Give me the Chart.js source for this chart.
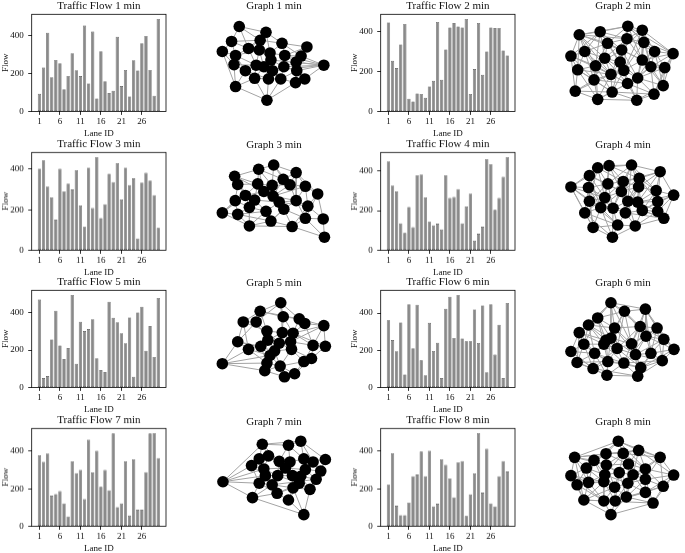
<!DOCTYPE html>
<html><head><meta charset="utf-8">
<script src="https://cdn.jsdelivr.net/npm/chart.js@4.4.1/dist/chart.umd.min.js"></script>
<style>
html,body{margin:0;padding:0;background:#fff;overflow:hidden;width:685px;height:553px;}
.p{position:absolute;}
.t{position:absolute;font-family:"Liberation Serif","Times New Roman",serif;font-size:11px;color:#111;white-space:nowrap;transform:translate(-50%,-50%);line-height:1;}
</style></head><body>
<script>
// ---------- data ----------
const lanes = [1,2,3,4,5,6,7,8,9,10,11,12,13,14,15,16,17,18,19,20,21,22,23,24,25,26,27,28,29,30];
const xTickLabels = [1,6,11,16,21,26];
const yTickLabels = [0,200,400];

const flow1 = [93,232,417,181,273,255,118,188,308,218,187,455,148,423,69,319,160,97,109,395,134,220,79,271,217,361,400,220,83,490];
const flow2 = [445,253,217,335,438,63,50,90,87,68,125,153,448,158,310,420,442,425,420,463,87,212,443,183,300,420,417,418,305,280];
const flow3 = [403,443,314,261,151,402,291,329,300,395,221,115,408,208,460,159,227,378,337,430,251,408,322,355,58,334,382,344,272,110];
const flow4 = [449,327,298,136,87,219,116,379,383,267,143,126,134,105,379,264,269,309,136,221,286,48,83,119,461,435,204,264,371,471];
const flow5 = [471,50,61,257,411,225,152,211,496,127,352,302,313,366,157,93,82,459,373,350,291,237,375,57,402,432,196,329,163,480];
const flow6 = [361,255,195,350,70,448,211,445,146,66,348,196,241,50,423,488,266,498,264,248,248,420,239,441,82,448,177,337,50,455];
const flow7 = [379,343,388,163,172,187,122,52,346,283,300,144,461,287,402,210,300,192,495,102,122,346,57,357,88,88,289,495,497,364];
const flow8 = [221,389,109,59,59,126,267,276,398,267,402,106,120,357,327,255,154,341,348,54,170,282,497,179,413,122,106,267,348,292];

// graph layouts (node x,y in layout units) and edge lists (1-based node ids)
const g1Nodes = [[125,68],[212,87],[100,117],[193,113],[264,123],[70,150],[155,140],[190,145],[345,135],[113,163],[225,155],[273,163],[326,165],[108,193],[180,195],[228,178],[310,185],[400,195],[145,213],[205,200],[270,200],[233,213],[312,213],[175,238],[220,240],[260,240],[308,252],[338,240],[113,265],[215,310]];
const g1Edges = "1-2 1-3 1-4 1-7 2-4 2-5 2-11 2-8 3-6 3-7 3-10 4-8 4-5 4-16 5-12 5-9 5-11 6-10 6-14 6-29 7-8 7-10 7-15 8-11 8-20 9-13 9-17 9-12 10-14 10-15 11-16 11-12 12-17 12-21 13-17 13-18 14-19 14-29 15-20 15-19 15-24 16-22 16-20 16-21 17-18 17-23 18-23 18-21 18-16 18-28 19-24 19-29 20-22 20-25 21-26 21-22 22-25 23-27 23-28 24-25 24-30 25-26 25-30 26-27 26-30 27-28 27-30 29-30 10-19 12-13 3-4 7-4 8-15 8-16 11-20 13-23 17-21 22-26 21-23 19-25 24-29 14-15 2-7 5-13 17-27 23-26 20-24 10-8 18-12 18-22";

const g2Nodes = [[125,95],[193,85],[283,67],[330,80],[217,123],[280,108],[335,120],[143,150],[263,145],[370,150],[430,157],[98,165],[208,172],[330,178],[258,185],[178,197],[358,200],[403,203],[120,210],[270,212],[228,225],[315,237],[173,243],[282,255],[398,262],[112,280],[232,283],[368,290],[185,307],[312,310]];
const g2Edges = "1-2 1-3 1-5 1-8 1-12 1-13 1-19 1-9 2-3 2-5 2-6 2-8 2-13 2-9 3-4 3-6 3-7 3-9 3-11 4-7 4-10 4-11 4-6 4-14 5-6 5-9 5-13 5-15 5-16 6-7 6-9 6-14 6-20 7-10 7-14 7-17 8-12 8-16 8-13 8-19 8-21 9-15 9-14 9-20 9-21 10-11 10-17 10-18 10-14 11-18 11-25 11-17 12-19 12-26 12-16 13-16 13-21 13-15 13-23 14-17 14-22 14-20 15-20 15-21 15-24 16-19 16-23 16-21 17-18 17-22 17-25 18-25 18-28 19-23 19-26 20-24 20-22 20-27 21-27 21-23 21-24 22-24 22-28 22-30 23-26 23-29 23-27 24-27 24-30 25-28 25-30 26-29 27-29 27-30 28-30 29-30 19-29 11-28 3-15 26-27 2-16 4-20 13-20 24-28 12-23 6-15 1-16 1-21 2-12 2-15 3-5 3-10 3-14 4-9 4-17 5-8 5-20 5-14 6-10 6-13 7-11 7-20 7-22 8-23 9-16 9-22 10-22 10-25 11-14 12-21 13-24 14-25 15-22 15-27 16-27 16-29 17-24 17-28 18-22 19-21 20-30 21-29 22-25 23-24 24-29 26-21 27-28 19-27 1-6 18-14";

const g3Nodes = [[188,497],[237,483],[310,508],[110,520],[268,530],[120,547],[185,545],[232,550],[290,548],[340,553],[205,570],[145,583],[175,598],[235,585],[380,578],[112,600],[255,605],[310,600],[158,622],[270,628],[348,618],[212,635],[70,640],[120,645],[228,667],[340,658],[398,660],[158,683],[297,685],[402,720]];
const g3Edges = "1-2 1-4 1-7 1-5 2-3 2-5 2-8 3-5 3-9 3-10 4-6 4-7 4-12 5-9 5-8 5-14 6-12 6-16 6-7 7-11 7-8 7-13 8-11 8-14 9-10 9-18 9-14 10-15 10-21 10-18 11-13 11-14 11-17 12-13 12-16 12-19 13-19 13-22 14-17 14-20 15-21 15-27 15-26 16-23 16-24 16-19 17-20 17-18 17-22 18-21 18-26 19-24 19-28 20-25 20-29 21-26 21-27 22-25 22-28 23-24 23-28 24-28 25-28 25-29 26-29 26-27 26-30 27-30 29-30 1-11 3-18 13-17 8-17 20-26 2-9 1-8 4-11 6-13 7-12 8-9 11-12 14-18 17-21 19-22 20-18 22-24 23-16 24-25 25-20 29-21 28-29 12-23 10-14 3-15";

const g4Nodes = [[185,492],[222,485],[295,483],[388,505],[158,518],[320,527],[218,545],[268,537],[318,555],[98,555],[155,557],[262,570],[375,567],[432,582],[208,590],[158,602],[283,602],[315,605],[380,603],[195,623],[235,625],[275,640],[330,632],[380,635],[143,640],[400,658],[233,720],[250,680],[307,683],[170,688]];
const g4Edges = "1-2 1-5 1-7 1-3 1-10 2-3 2-7 2-8 2-5 3-6 3-4 3-8 3-9 4-6 4-13 4-14 4-9 5-10 5-11 5-7 5-15 6-9 6-8 6-13 6-12 7-8 7-11 7-12 7-15 8-12 8-9 8-17 9-13 9-18 9-17 10-11 10-16 10-25 10-15 11-16 11-15 11-20 12-17 12-15 12-21 13-14 13-19 13-18 14-19 14-26 14-24 15-20 15-21 15-16 16-25 16-20 16-30 17-18 17-22 17-21 18-23 18-19 19-24 19-23 20-25 20-21 20-30 21-22 21-28 22-23 22-29 22-28 23-24 23-29 24-26 24-29 25-30 26-29 27-28 27-30 28-29 28-30 27-29 3-12 2-15 1-11 4-19 6-18 10-20 11-25 14-23 8-21 26-23 9-22 5-16 12-22 13-24 17-23 20-27 1-8 1-15 2-6 2-12 3-7 3-13 4-8 4-18 5-12 5-20 6-17 6-19 7-16 7-21 8-18 9-12 9-23 10-30 11-21 12-23 13-23 14-18 15-22 15-25 16-21 16-28 17-29 18-24 19-26 20-28 21-27 22-26 23-26 25-28 25-27 11-30 1-16 3-17 8-15 12-20";

const g5Nodes = [[260,72],[193,100],[268,118],[320,125],[138,135],[180,135],[338,140],[400,147],[215,165],[265,170],[300,172],[120,200],[218,195],[292,200],[255,205],[195,215],[155,225],[365,212],[405,215],[240,230],[295,225],[225,245],[360,255],[70,272],[215,270],[335,265],[208,295],[258,280],[305,305],[272,315]];
const g5Edges = "1-2 1-3 1-4 1-10 2-6 2-3 2-9 3-4 3-10 3-11 4-7 4-11 4-8 5-6 5-12 5-9 5-17 6-9 6-13 7-8 7-11 7-18 8-19 8-18 8-14 9-13 9-10 10-11 10-15 10-14 11-14 11-18 12-17 12-24 12-16 13-15 13-16 13-20 14-21 14-15 15-20 15-21 16-17 16-22 17-24 17-25 18-19 18-23 18-26 19-23 20-22 20-28 21-26 21-28 22-25 23-26 24-25 24-27 25-27 26-29 27-30 28-30 28-29 29-30 19-11 22-28 20-21 9-16 2-5 1-6 2-4 6-12 9-15 10-13 11-8 12-20 14-18 15-22 16-25 17-22 20-25 21-23 23-29 24-22 25-28 26-28 27-28 13-14";

const g6Nodes = [[228,72],[340,93],[272,100],[185,122],[155,145],[240,155],[323,150],[378,155],[125,170],[342,182],[400,192],[228,188],[140,208],[205,208],[295,207],[248,222],[433,225],[98,232],[175,238],[308,242],[358,238],[118,268],[218,265],[270,270],[395,262],[170,288],[325,285],[215,310],[315,313],[212,195]];
const g6Edges = "1-3 1-4 1-6 1-2 1-12 2-3 2-7 2-8 2-10 3-6 3-7 3-15 4-5 4-6 4-9 4-12 4-30 5-9 5-13 5-6 5-30 6-7 6-12 6-15 6-16 7-8 7-10 7-15 8-11 8-10 8-17 9-13 9-18 9-14 10-11 10-15 10-21 10-20 11-17 11-21 11-25 12-14 12-16 12-15 12-30 13-18 13-19 13-14 13-22 14-19 14-16 14-23 15-16 15-20 15-24 16-23 16-24 16-20 17-25 17-21 18-22 18-19 19-22 19-26 19-23 20-21 20-24 20-27 21-25 21-27 22-26 23-26 23-28 23-24 24-27 24-29 24-28 25-27 25-29 26-28 27-29 28-29 30-14 30-19 5-12 9-30 3-10 1-5 2-11 18-26 22-28 13-26 11-20 7-16 8-21 17-27 19-28 6-30 4-13 12-20 1-7 1-9 1-15 2-15 2-21 3-4 3-12 3-16 4-14 5-14 5-19 6-14 6-20 7-20 7-11 8-25 8-15 9-19 9-22 10-17 10-24 12-19 12-23 13-23 14-24 15-27 16-27 16-26 18-26 19-24 20-25 20-29 21-29 22-23 23-27 24-25 26-29 30-16 30-23 2-17";

const g7Nodes = [[200,497],[285,500],[325,487],[220,535],[190,545],[255,553],[290,555],[335,545],[365,555],[405,547],[165,567],[205,578],[275,575],[340,580],[390,585],[210,600],[250,600],[298,600],[325,602],[72,620],[190,625],[375,612],[232,630],[320,625],[248,658],[300,640],[355,645],[168,672],[285,680],[335,728]];
const g7Edges = "1-2 1-4 1-5 1-3 2-3 2-6 2-7 3-8 3-9 4-6 4-5 4-12 5-11 5-12 6-7 6-13 7-8 7-13 8-9 8-14 9-10 9-15 10-15 10-22 11-12 11-20 11-21 12-16 12-17 13-17 13-18 14-19 14-15 14-22 15-22 16-21 16-23 17-23 17-18 18-19 18-26 19-24 19-22 20-21 20-28 20-16 20-1 21-28 21-23 22-27 23-25 24-26 24-27 25-29 25-28 26-29 26-27 27-30 29-30 28-30 6-17 13-24 3-10 1-6 2-8 4-13 5-4 11-16 12-13 13-14 14-24 15-9 16-17 17-24 18-14 19-27 21-25 23-26 24-25 25-26 28-23 29-24 20-12 22-23 30-26";

const g8Nodes = [[252,487],[318,517],[212,528],[268,527],[110,540],[173,550],[388,540],[213,565],[285,562],[148,575],[340,578],[98,600],[208,597],[255,590],[300,597],[432,598],[155,622],[118,630],[205,620],[340,612],[283,625],[240,638],[398,635],[340,655],[140,680],[205,683],[242,683],[278,670],[365,690],[228,728]];
const g8Edges = "1-2 1-3 1-4 1-5 1-7 2-4 2-7 2-11 2-9 3-4 3-6 3-8 3-5 4-9 4-8 4-14 5-6 5-10 5-12 5-2 6-10 6-8 6-13 7-11 7-16 7-23 8-13 8-14 8-9 9-15 9-11 9-14 10-12 10-17 10-13 11-15 11-20 11-16 12-18 12-17 12-25 13-19 13-14 13-17 14-15 14-21 14-22 15-20 15-21 16-23 16-20 16-29 17-18 17-19 17-25 18-25 19-22 19-26 20-23 20-24 20-21 21-22 21-28 21-24 22-27 22-26 23-24 23-29 24-29 24-28 25-26 25-30 26-27 26-30 27-28 27-30 28-29 28-30 29-30 25-29 7-4 3-10 6-19 9-20 18-26 13-22 11-23 15-24 19-27 14-28 8-19 12-19 1-6 1-9 1-11 2-16 2-15 3-13 3-9 4-11 4-13 5-8 5-17 6-14 6-17 7-20 7-15 8-22 9-21 10-19 10-18 11-21 11-24 12-26 13-21 14-27 15-28 16-24 17-26 18-19 19-25 20-28 20-29 21-27 22-25 22-28 23-28 24-27 26-28 3-2 5-25";

// ---------- drawing ----------
const FONT = '"Liberation Serif","Times New Roman",serif';
const TXT = '#111';

const boxPlugin = {id:'box', afterDraw(c){
  const a=c.chartArea, x=c.ctx; x.save(); x.strokeStyle='#000'; x.lineWidth=0.8;
  x.strokeRect(a.left,a.top,a.right-a.left,a.bottom-a.top); x.restore();
}};

function makeCanvas(left, top, w, h){
  const d=document.createElement('div'); d.className='p';
  d.style.cssText='left:'+left+'px;top:'+top+'px;width:'+w+'px;height:'+h+'px';
  const c=document.createElement('canvas'); d.appendChild(c); document.body.appendChild(d); return c;
}
function makeText(txt, cx, cy){
  const d=document.createElement('div'); d.className='t'; d.textContent=txt;
  d.style.left=cx+'px'; d.style.top=cy+'px'; document.body.appendChild(d);
}

function barChart(canvas, title, values){
  const lo = lanes[0]-0.4, hi = lanes[lanes.length-1]+0.4, m=(hi-lo)*0.05;
  const ymax = Math.max(...values)*1.05;
  new Chart(canvas, {
    type:'bar',
    data:{datasets:[{data:lanes.map((l,i)=>({x:l,y:values[i]})),
      backgroundColor:'#8a8a8a', borderColor:'#555555', borderWidth:0.6, borderSkipped:false,
      categoryPercentage:0.8, barPercentage:1}]},
    options:{
      animation:false, responsive:true, maintainAspectRatio:false, events:[],
      layout:{padding:{left:0,right:9,top:0,bottom:0}},
      plugins:{legend:{display:false}, tooltip:{enabled:false},
        title:{display:true,fullSize:false,text:title,color:TXT,font:{family:FONT,size:11,weight:'normal'},padding:{top:0,bottom:1.1}}},
      scales:{
        x:{type:'linear',min:lo-m,max:hi+m,offset:false,
          afterBuildTicks:s=>{s.ticks=xTickLabels.map(v=>({value:v}));},
          afterFit:s=>{s.height=28;},
          ticks:{color:TXT,font:{family:FONT,size:9},padding:1,maxRotation:0,autoSkip:false},
          grid:{display:true,offset:false,drawOnChartArea:false,drawTicks:true,tickLength:3.5,tickColor:'#000',tickWidth:0.8},
          border:{display:false},
          title:{display:true,text:'Lane ID',color:TXT,font:{family:FONT,size:9},padding:{top:0,bottom:0.5}}},
        y:{type:'linear',min:0,max:ymax,
          afterBuildTicks:s=>{s.ticks=yTickLabels.map(v=>({value:v}));},
          afterFit:s=>{s.width=31.7;},
          ticks:{color:TXT,font:{family:FONT,size:9},padding:4.5},
          grid:{display:true,drawOnChartArea:false,drawTicks:true,tickLength:3.5,tickColor:'#000',tickWidth:0.8},
          border:{display:false},
          title:{display:true,text:'Flow',color:TXT,font:{family:FONT,size:9},padding:{top:0,bottom:0}}}
      }
    },
    plugins:[boxPlugin]
  });
}

function graphChart(canvas, nodes, edgeStr, ymin){
  const pairs = edgeStr.trim().split(/\s+/).map(s=>s.split('-').map(n=>+n-1));
  const edgeData=[];
  pairs.forEach(([a,b])=>{
    edgeData.push({x:nodes[a][0],y:nodes[a][1]},{x:nodes[b][0],y:nodes[b][1]},{x:null,y:null});
  });
  new Chart(canvas,{
    type:'scatter',
    data:{datasets:[
      {type:'line',data:edgeData,borderColor:'#a3a3a3',borderWidth:1,pointRadius:0,pointHoverRadius:0,
       spanGaps:false,tension:0,fill:false,order:2,clip:false},
      {data:nodes.map(p=>({x:p[0],y:p[1]})),pointRadius:5.8,pointHoverRadius:5.8,
       backgroundColor:'#000',borderColor:'#000',borderWidth:0,order:1,clip:false}
    ]},
    options:{animation:false,responsive:true,maintainAspectRatio:false,events:[],
      layout:{padding:0},
      plugins:{legend:{display:false},tooltip:{enabled:false}},
      scales:{x:{type:'linear',display:false,min:0,max:450},
              y:{type:'linear',display:false,min:ymin,max:ymin+405,reverse:true}}}
  });
}

const barPanels = [
  ['Traffic Flow 1 min', flow1, 0, 0],
  ['Traffic Flow 2 min', flow2, 349, 0],
  ['Traffic Flow 3 min', flow3, 0, 138.4],
  ['Traffic Flow 4 min', flow4, 349, 138.4],
  ['Traffic Flow 5 min', flow5, 0, 275.9],
  ['Traffic Flow 6 min', flow6, 349, 275.9],
  ['Traffic Flow 7 min', flow7, 0, 414.4],
  ['Traffic Flow 8 min', flow8, 349, 414.4]
];
barPanels.forEach(([t,v,l,tp])=>barChart(makeCanvas(l,tp,175,139.4),t,v));

const graphPanels = [
  ['Graph 1 min', g1Nodes, g1Edges, 195, 0, 0, 274, 5],
  ['Graph 2 min', g2Nodes, g2Edges, 535, 0, 0, 623, 5],
  ['Graph 3 min', g3Nodes, g3Edges, 195, 140, 420, 274, 144],
  ['Graph 4 min', g4Nodes, g4Edges, 535, 140, 420, 623, 144],
  ['Graph 5 min', g5Nodes, g5Edges, 195, 275, 0, 274, 281.7],
  ['Graph 6 min', g6Nodes, g6Edges, 535, 275, 0, 623, 281.7],
  ['Graph 7 min', g7Nodes, g7Edges, 195, 415, 420, 274, 420.7],
  ['Graph 8 min', g8Nodes, g8Edges, 535, 415, 420, 623, 420.7]
];
graphPanels.forEach(([t,n,e,l,tp,ym,cx,cy])=>{
  graphChart(makeCanvas(l,tp,150,135),n,e,ym);
  makeText(t,cx,cy);
});
</script>
</body></html>
